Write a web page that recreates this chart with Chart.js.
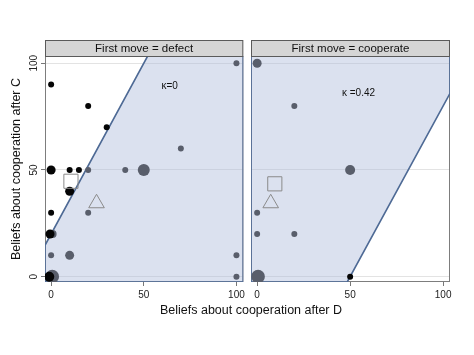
<!DOCTYPE html>
<html>
<head>
<meta charset="utf-8">
<script src="https://cdn.jsdelivr.net/npm/chart.js@4.4.1/dist/chart.umd.min.js"></script>
<style>
  html, body { margin:0; padding:0; background:#fff; }
  body { width:474px; height:355px; position:relative; overflow:hidden; font-family:"Liberation Sans", Arial, sans-serif; }
  #c1 { position:absolute; left:0; top:0; }
  #c2 { position:absolute; left:247px; top:0; }
  #xtitle { position:absolute; left:131px; width:240px; top:303px; text-align:center; font-size:12.5px; color:#111; }
</style>
</head>
<body>
<canvas id="c1" width="247" height="355"></canvas>
<canvas id="c2" width="227" height="355"></canvas>
<div id="xtitle">Beliefs about cooperation after D</div>
<script>
// ---- data ----
const xTicks = [0, 50, 100];
const yTicks = [0, 50, 100];
const panelTitles = ["First move = defect", "First move = cooperate"];
const kappaLabels = ["\u03BA=0", "\u03BA =0.42"];
const kappaX = [64, 54.5];
const kappaY = [89, 86];

// left panel (first move = defect)
const leftBlackX = [0, 20, 30, 0, 10, 15, 10, 0, -0.6, -1];
const leftBlackY = [90, 80, 70, 50, 50, 50, 40, 30, 20, 0];
const leftBlackR = [3, 3, 3, 4.5, 3, 3, 4.5, 3, 4.5, 5];
const leftGrayX = [100, 70, 20, 40, 50, 20, 0.8, 0, 10, 100, 0.6, 100];
const leftGrayY = [100, 60, 50, 50, 50, 30, 20, 10, 10, 10, 0, 0];
const leftGrayR = [3, 3, 3, 3, 6, 3, 4, 3, 4.5, 3, 6.8, 3];
const leftMeanX = [10.7];   // square
const leftMeanY = [44.7];
const leftPredX = [24.5];   // triangle
const leftPredY = [34.4];
const leftRegionX = [-3.3, -3.3, 52.1, 103.7, 103.7, -3.3];
const leftRegionY = [-2.5, 14.7, 103.4, 103.4, -2.5, -2.5];

// right panel (first move = cooperate)
const rightBlackX = [50];
const rightBlackY = [0];
const rightBlackR = [3];
const rightGrayX = [0, 20, 50, 0, 0, 20, 0.5];
const rightGrayY = [100, 80, 50, 30, 20, 20, 0];
const rightGrayR = [4.5, 3, 5, 3, 3, 3, 6.8];
const rightMeanX = [9.5];
const rightMeanY = [43.5];
const rightPredX = [7.3];
const rightPredY = [34.4];
const rightRegionX = [-3.3, -3.3, 103.7, 103.7, 48.44, -3.3];
const rightRegionY = [-2.5, 103.4, 103.4, 85.9, -2.5, -2.5];

const X_MIN = -3.3, X_MAX = 103.7, Y_MIN = -2.5, Y_MAX = 103.4;

const pts = (xs, ys) => xs.map((x, i) => ({x: x, y: ys[i]}));

const FONT = '"Liberation Sans", Arial, sans-serif';

const panelPlugin = {
  id: 'panelDeco',
  beforeDatasetsDraw(chart, args, o) {
    const a = chart.chartArea, ctx = chart.ctx;
    ctx.save();
    ctx.strokeStyle = '#7d7d7d';
    ctx.lineWidth = 1;
    ctx.strokeRect(a.left + 0.5, a.top + 0.5, a.right - a.left - 1, a.bottom - a.top - 1);
    ctx.restore();
  },
  afterDraw(chart, args, o) {
    const a = chart.chartArea, ctx = chart.ctx;
    const xs = chart.scales.x, ys = chart.scales.y;
    ctx.save();
    // header strip
    ctx.fillStyle = '#d5d5d5';
    ctx.fillRect(a.left, 40, a.right - a.left, a.top - 40);
    ctx.strokeStyle = '#5a5a5a';
    ctx.lineWidth = 1;
    ctx.strokeRect(a.left + 0.5, 40.5, a.right - a.left - 1, a.top - 40);
    ctx.fillStyle = '#111';
    ctx.font = '11.5px ' + FONT;
    ctx.textAlign = 'center';
    ctx.textBaseline = 'middle';
    ctx.fillText(o.title, (a.left + a.right) / 2, 48.5);
    // kappa label
    ctx.font = '10px ' + FONT;
    ctx.fillText(o.kappa, xs.getPixelForValue(o.kx), ys.getPixelForValue(o.ky));
    // y tick labels (rotated) + y title
    if (o.yLabels) {
      ctx.font = '10px ' + FONT;
      ctx.fillStyle = '#222';
      yTicks.forEach(v => {
        ctx.save();
        ctx.translate(34, ys.getPixelForValue(v));
        ctx.rotate(-Math.PI / 2);
        ctx.fillText(String(v), 0, 0);
        ctx.restore();
      });
      ctx.save();
      ctx.font = '12.5px ' + FONT;
      ctx.fillStyle = '#111';
      ctx.translate(17, (a.top + a.bottom) / 2);
      ctx.rotate(-Math.PI / 2);
      ctx.fillText('Beliefs about cooperation after C', 0, 0);
      ctx.restore();
    }
    ctx.restore();
  }
};

function makePanel(id, d) {
  const left = d.left;
  return new Chart(document.getElementById(id), {
    type: 'scatter',
    data: {
      datasets: [
        {
          type: 'line',
          data: pts(d.regionX, d.regionY),
          fill: 'shape',
          backgroundColor: 'rgba(170,183,218,0.42)',
          borderColor: '#4e6a95',
          borderWidth: 1.6,
          pointRadius: 0,
          tension: 0,
          order: 10
        },
        {
          data: pts(d.grayX, d.grayY),
          pointRadius: d.grayR,
          backgroundColor: '#595e6b',
          borderColor: '#595e6b',
          borderWidth: 0,
          order: 3
        },
        {
          data: pts(d.blackX, d.blackY),
          pointRadius: d.blackR,
          backgroundColor: '#050505',
          borderColor: '#050505',
          borderWidth: 0,
          order: 2
        },
        {
          data: pts(d.meanX, d.meanY),
          pointStyle: 'rect',
          pointRadius: 10,
          backgroundColor: 'rgba(0,0,0,0)',
          borderColor: '#8a8a8a',
          borderWidth: 1,
          order: 1
        },
        {
          data: pts(d.predX, d.predY),
          pointStyle: 'triangle',
          pointRadius: 9,
          backgroundColor: 'rgba(0,0,0,0)',
          borderColor: '#8a8a8a',
          borderWidth: 1,
          order: 1
        }
      ]
    },
    options: {
      responsive: false,
      animation: false,
      events: [],
      layout: {
        autoPadding: false,
        padding: left ? {left: 0, top: 56, right: 3.7, bottom: 53} : {left: 0, top: 56, right: 24, bottom: 53}
      },
      plugins: {
        legend: { display: false },
        tooltip: { enabled: false },
        panelDeco: { title: d.title, kappa: d.kappa, kx: d.kx, ky: d.ky, yLabels: left }
      },
      scales: {
        x: {
          type: 'linear', min: X_MIN, max: X_MAX,
          afterBuildTicks: s => { s.ticks = xTicks.map(v => ({value: v})); },
          afterFit: s => { s.height = 20; s.paddingLeft = 0; s.paddingRight = 0; },
          border: { display: false },
          grid: { drawOnChartArea: false, drawTicks: true, tickLength: 4, tickColor: '#777' },
          ticks: { font: { size: 10, family: FONT }, color: '#222', padding: 3, maxRotation: 0 }
        },
        y: {
          type: 'linear', min: Y_MIN, max: Y_MAX,
          afterBuildTicks: s => { s.ticks = yTicks.map(v => ({value: v})); },
          afterFit: s => { s.width = left ? 45 : 4; s.paddingTop = 0; s.paddingBottom = 0; },
          border: { display: false },
          grid: { color: '#e3e3e3', lineWidth: 1, drawTicks: left, tickLength: 4, tickColor: '#777' },
          ticks: { display: false }
        }
      }
    },
    plugins: [panelPlugin]
  });
}

makePanel('c1', {
  left: true, title: panelTitles[0], kappa: kappaLabels[0], kx: kappaX[0], ky: kappaY[0],
  blackX: leftBlackX, blackY: leftBlackY, blackR: leftBlackR,
  grayX: leftGrayX, grayY: leftGrayY, grayR: leftGrayR,
  meanX: leftMeanX, meanY: leftMeanY, predX: leftPredX, predY: leftPredY,
  regionX: leftRegionX, regionY: leftRegionY
});
makePanel('c2', {
  left: false, title: panelTitles[1], kappa: kappaLabels[1], kx: kappaX[1], ky: kappaY[1],
  blackX: rightBlackX, blackY: rightBlackY, blackR: rightBlackR,
  grayX: rightGrayX, grayY: rightGrayY, grayR: rightGrayR,
  meanX: rightMeanX, meanY: rightMeanY, predX: rightPredX, predY: rightPredY,
  regionX: rightRegionX, regionY: rightRegionY
});
</script>
</body>
</html>
